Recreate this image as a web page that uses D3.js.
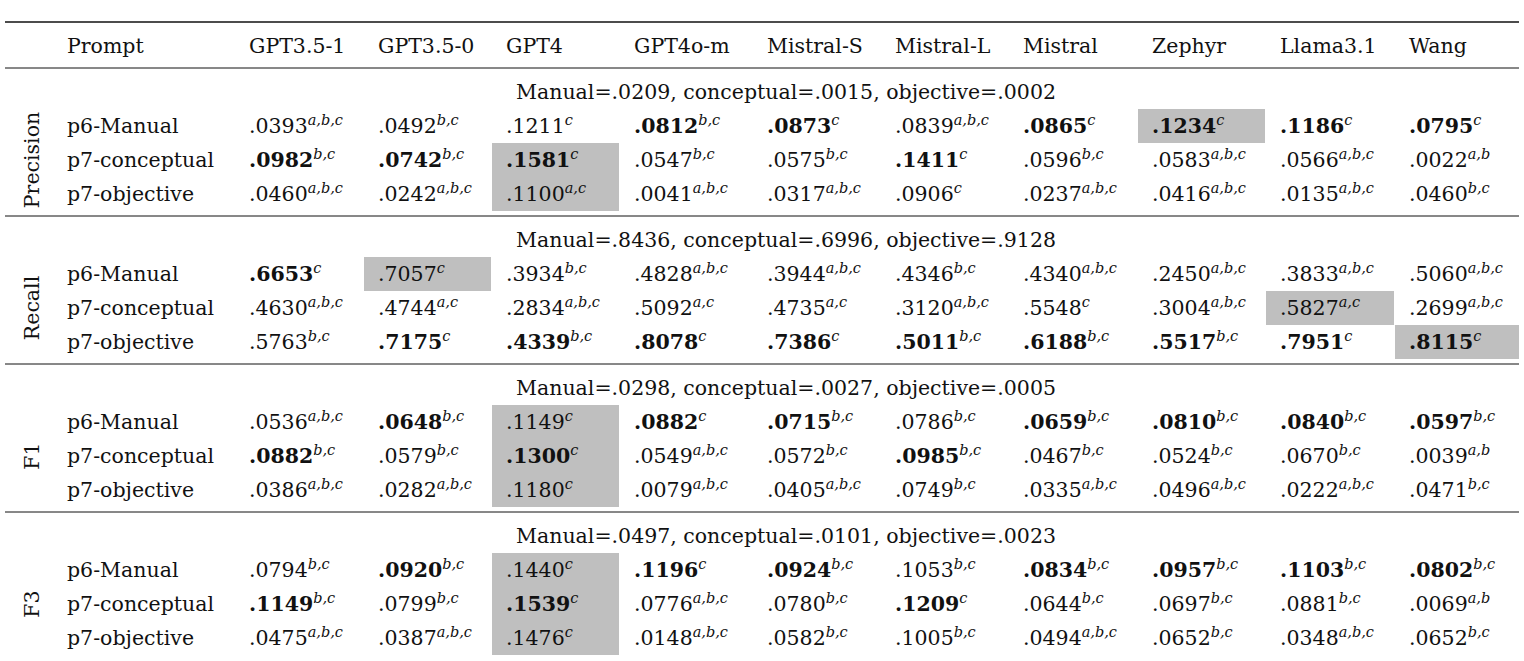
<!DOCTYPE html>
<html><head><meta charset="utf-8">
<script src="https://cdn.jsdelivr.net/npm/d3@7"></script>
<style>body{margin:0;background:#fff}text{font-family:"DejaVu Serif","Liberation Serif",serif;fill:#111}</style>
</head><body><svg id="c" width="1524" height="661"></svg>
<script>
// colonnes et lignes du tableau
const models = ["GPT3.5-1","GPT3.5-0","GPT4","GPT4o-m","Mistral-S","Mistral-L","Mistral","Zephyr","Llama3.1","Wang"];
const prompts = ["p6-Manual","p7-conceptual","p7-objective"];
const metrics = ["Precision","Recall","F1","F3"];
const baselines = [
  "Manual=.0209, conceptual=.0015, objective=.0002",
  "Manual=.8436, conceptual=.6996, objective=.9128",
  "Manual=.0298, conceptual=.0027, objective=.0005",
  "Manual=.0497, conceptual=.0101, objective=.0023"
];
// "*" = gras, "#" = cellule grisée, "^" = exposant
const precision = [
  [".0393^a,b,c",".0492^b,c",".1211^c","*.0812^b,c","*.0873^c",".0839^a,b,c","*.0865^c","#*.1234^c","*.1186^c","*.0795^c"],
  ["*.0982^b,c","*.0742^b,c","#*.1581^c",".0547^b,c",".0575^b,c","*.1411^c",".0596^b,c",".0583^a,b,c",".0566^a,b,c",".0022^a,b"],
  [".0460^a,b,c",".0242^a,b,c","#.1100^a,c",".0041^a,b,c",".0317^a,b,c",".0906^c",".0237^a,b,c",".0416^a,b,c",".0135^a,b,c",".0460^b,c"]
];
const recall = [
  ["*.6653^c","#.7057^c",".3934^b,c",".4828^a,b,c",".3944^a,b,c",".4346^b,c",".4340^a,b,c",".2450^a,b,c",".3833^a,b,c",".5060^a,b,c"],
  [".4630^a,b,c",".4744^a,c",".2834^a,b,c",".5092^a,c",".4735^a,c",".3120^a,b,c",".5548^c",".3004^a,b,c","#.5827^a,c",".2699^a,b,c"],
  [".5763^b,c","*.7175^c","*.4339^b,c","*.8078^c","*.7386^c","*.5011^b,c","*.6188^b,c","*.5517^b,c","*.7951^c","#*.8115^c"]
];
const f1 = [
  [".0536^a,b,c","*.0648^b,c","#.1149^c","*.0882^c","*.0715^b,c",".0786^b,c","*.0659^b,c","*.0810^b,c","*.0840^b,c","*.0597^b,c"],
  ["*.0882^b,c",".0579^b,c","#*.1300^c",".0549^a,b,c",".0572^b,c","*.0985^b,c",".0467^b,c",".0524^b,c",".0670^b,c",".0039^a,b"],
  [".0386^a,b,c",".0282^a,b,c","#.1180^c",".0079^a,b,c",".0405^a,b,c",".0749^b,c",".0335^a,b,c",".0496^a,b,c",".0222^a,b,c",".0471^b,c"]
];
const f3 = [
  [".0794^b,c","*.0920^b,c","#.1440^c","*.1196^c","*.0924^b,c",".1053^b,c","*.0834^b,c","*.0957^b,c","*.1103^b,c","*.0802^b,c"],
  ["*.1149^b,c",".0799^b,c","#*.1539^c",".0776^a,b,c",".0780^b,c","*.1209^c",".0644^b,c",".0697^b,c",".0881^b,c",".0069^a,b"],
  [".0475^a,b,c",".0387^a,b,c","#.1476^c",".0148^a,b,c",".0582^b,c",".1005^b,c",".0494^a,b,c",".0652^b,c",".0348^a,b,c",".0652^b,c"]
];
const tables = [precision, recall, f1, f3];

const svg = d3.select("#c");
const colX = [249,378,506,634,767,895,1023,1152,1280,1409];
const x = d3.scaleOrdinal().domain(models).range(colX);
const fs = 20.5;

function rule(y, w) {
  svg.append("line").attr("x1",5).attr("x2",1519).attr("y1",y).attr("y2",y)
    .attr("stroke","#111").attr("stroke-width",w);
}

// en-tête
rule(22, 1.6);
svg.append("text").attr("x",67).attr("y",53).attr("font-size",fs).text("Prompt");
models.forEach(m => svg.append("text").attr("x",x(m)).attr("y",53).attr("font-size",fs).text(m));
rule(68, 1);

const secTop = [68, 216, 364, 512];
metrics.forEach((met, s) => {
  const top = secTop[s];
  if (s > 0) rule(top, 1);
  svg.append("text").attr("x",786).attr("y",top+31).attr("text-anchor","middle")
    .attr("font-size",fs).text(baselines[s]);
  const mid = top + 41 + 51;
  svg.append("text").attr("transform",`translate(39,${mid}) rotate(-90)`)
    .attr("text-anchor","middle").attr("font-size",fs).text(met);
  tables[s].forEach((row, r) => {
    const y0 = top + 41 + r*34;
    svg.append("text").attr("x",67).attr("y",y0+24).attr("font-size",fs).text(prompts[r]);
    row.forEach((cell, c) => {
      let str = cell, shade = false, bold = false;
      if (str[0] === "#") { shade = true; str = str.slice(1); }
      if (str[0] === "*") { bold = true; str = str.slice(1); }
      const [val, sup] = str.split("^");
      const cx = x(models[c]);
      if (shade) {
        const right = c < 9 ? colX[c+1] - 15 : 1519;
        svg.append("rect").attr("x",cx-14).attr("y",y0).attr("width",right-(cx-14)).attr("height",34)
          .attr("fill","#bfbfbf");
      }
      const t = svg.append("text").attr("x",cx).attr("y",y0+24).attr("font-size",fs);
      t.append("tspan").attr("font-weight",bold?"bold":"normal").text(val);
      t.append("tspan").attr("font-size",14.5).attr("font-style","italic").attr("dy",-8).text(sup);
    });
  });
});
</script></body></html>
